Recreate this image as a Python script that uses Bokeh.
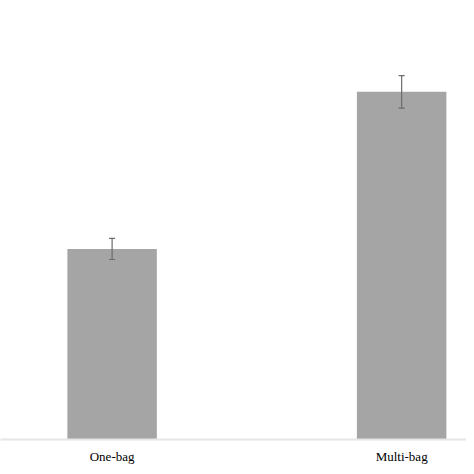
from bokeh.plotting import figure
from bokeh.models import ColumnDataSource, Whisker, TeeHead, FixedTicker, Range1d
from bokeh.embed import file_html
from bokeh.resources import INLINE

categories = ["One-bag", "Multi-bag"]
means = [0.434, 0.792]
errors = [0.024, 0.037]

xs = list(range(len(categories)))
src = ColumnDataSource(dict(
    x=xs, top=means,
    upper=[m + e for m, e in zip(means, errors)],
    lower=[m - e for m, e in zip(means, errors)],
))

p = figure(frame_width=466, frame_height=439, output_backend="svg", toolbar_location=None,
           x_range=Range1d(-0.3855, 1.224), y_range=Range1d(0, 1.0),
           min_border_left=0, min_border_right=0, min_border_top=0, min_border_bottom=0)
p.outline_line_color = None
p.background_fill_color = "white"
p.border_fill_color = "white"
p.grid.visible = False
p.yaxis.visible = False

p.vbar(x="x", top="top", width=0.309, source=src, fill_color="#a5a5a5", line_color=None)

w = Whisker(base="x", upper="upper", lower="lower", source=src,
            line_color="#6b6b6b", line_width=1.2, level="overlay",
            upper_head=TeeHead(size=6, line_color="#6b6b6b", line_width=1.2),
            lower_head=TeeHead(size=6, line_color="#6b6b6b", line_width=1.2))
p.add_layout(w)

ax = p.xaxis[0]
ax.ticker = FixedTicker(ticks=xs)
ax.major_label_overrides = {i: c for i, c in zip(xs, categories)}
ax.major_tick_line_color = None
ax.minor_tick_line_color = None
ax.major_tick_out = 0
ax.major_tick_in = 0
ax.axis_line_color = "#e6e6e6"
ax.axis_line_width = 2
ax.major_label_text_font = "Liberation Serif"
ax.major_label_text_font_size = "13px"
ax.major_label_text_color = "#000000"
ax.major_label_standoff = 9

open("out.html", "w").write(file_html(p, INLINE))
